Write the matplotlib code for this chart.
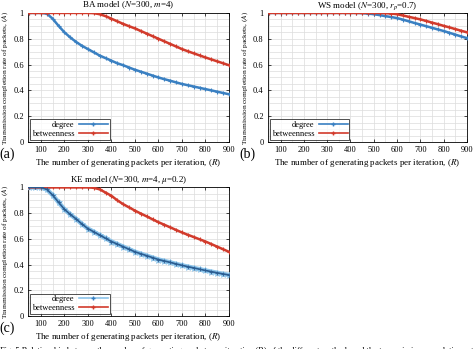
import numpy as np
import matplotlib.pyplot as plt
from matplotlib.ticker import MultipleLocator

plt.rcParams["font.family"] = ["Liberation Serif", "DejaVu Serif"]
plt.rcParams["mathtext.fontset"] = "stix"

# Packets generated per iteration, R
R = np.arange(50, 901, 25)

# Transmission completion rate A(R), BA model
ba_degree = [1.0, 1.0, 1.0, 0.995, 0.955, 0.90, 0.85, 0.81, 0.775, 0.745, 0.72, 0.695,
             0.67, 0.65, 0.63, 0.61, 0.595, 0.577, 0.56, 0.545, 0.53, 0.515, 0.50, 0.487,
             0.475, 0.462, 0.45, 0.44, 0.43, 0.42, 0.41, 0.40, 0.39, 0.38, 0.37]
ba_betw = [1.0, 1.0, 1.0, 1.0, 1.0, 1.0, 1.0, 1.0, 1.0, 1.0, 1.0, 0.998,
           0.99, 0.975, 0.955, 0.935, 0.915, 0.897, 0.88, 0.86, 0.84, 0.82, 0.80, 0.78,
           0.76, 0.74, 0.72, 0.703, 0.687, 0.671, 0.655, 0.64, 0.625, 0.61, 0.595]

# WS model
ws_degree = [1.0, 1.0, 1.0, 1.0, 1.0, 1.0, 1.0, 1.0, 1.0, 1.0, 1.0, 1.0,
             1.0, 1.0, 1.0, 1.0, 0.998, 0.995, 0.99, 0.983, 0.975, 0.968, 0.96, 0.948,
             0.935, 0.922, 0.91, 0.897, 0.885, 0.872, 0.86, 0.846, 0.832, 0.818, 0.805]
ws_betw = [1.0, 1.0, 1.0, 1.0, 1.0, 1.0, 1.0, 1.0, 1.0, 1.0, 1.0, 1.0,
           1.0, 1.0, 1.0, 1.0, 1.0, 1.0, 1.0, 1.0, 0.998, 0.995, 0.99, 0.98,
           0.97, 0.96, 0.95, 0.938, 0.925, 0.913, 0.90, 0.888, 0.875, 0.862, 0.85]

# KE model
ke_degree = [1.0, 1.0, 1.0, 0.985, 0.94, 0.885, 0.83, 0.79, 0.755, 0.715, 0.68, 0.655,
             0.63, 0.605, 0.58, 0.56, 0.54, 0.52, 0.50, 0.485, 0.47, 0.455, 0.44, 0.429,
             0.418, 0.406, 0.395, 0.385, 0.375, 0.365, 0.355, 0.346, 0.337, 0.328, 0.32]
ke_betw = [1.0, 1.0, 1.0, 1.0, 1.0, 1.0, 1.0, 1.0, 1.0, 1.0, 1.0, 0.997,
           0.985, 0.96, 0.935, 0.90, 0.87, 0.845, 0.82, 0.797, 0.775, 0.752, 0.73, 0.71,
           0.69, 0.67, 0.65, 0.632, 0.615, 0.597, 0.58, 0.56, 0.54, 0.52, 0.50]

BLUE = "#3a80c2"
LIGHT_BLUE = "#8cc4ea"
DARK_BLUE = "#2b5d92"
RED = "#d23b2c"

fig = plt.figure(figsize=(4.74, 3.49), dpi=100)


def panel(rect, title, deg, betw, tag, band=False):
    ax = fig.add_axes(rect)
    if band:
        ax.plot(R, deg, color=LIGHT_BLUE, lw=3.2, marker="*", ms=5, mew=0.6,
                mec=LIGHT_BLUE, zorder=3)
        ax.plot(R, deg, color=DARK_BLUE, lw=1.2, marker="+", ms=2.5, mew=0.6, zorder=4)
    else:
        ax.plot(R, deg, color=BLUE, lw=1.8, marker="+", ms=2.5, mew=0.8, zorder=3)
    ax.plot(R, betw, color=RED, lw=1.8, marker="+", ms=2.5, mew=0.8, zorder=3)

    ax.set_xlim(45, 900)
    ax.set_ylim(0, 1)
    ax.xaxis.set_major_locator(MultipleLocator(100))
    ax.xaxis.set_minor_locator(MultipleLocator(50))
    ax.yaxis.set_minor_locator(MultipleLocator(0.05))
    ax.set_yticks([0, 0.2, 0.4, 0.6, 0.8, 1.0])
    ax.set_yticklabels(["0", "0.2", "0.4", "0.6", "0.8", "1"])
    ax.grid(which="both", color="#dcdcdc", lw=0.5)
    ax.set_axisbelow(True)
    ax.tick_params(which="both", direction="in", top=True, right=True, labelsize=6,
                   length=2, width=0.5, pad=3)
    ax.tick_params(which="minor", length=0)
    for s in ax.spines.values():
        s.set_linewidth(0.6)

    ax.set_title(title, fontsize=6.5, pad=4)
    ax.set_xlabel(r"The number of generating packets per iteration, ($R$)", fontsize=6.5,
                  labelpad=2)
    ax.set_ylabel(r"Transmission completion rate of packets, ($A$)", fontsize=5.3,
                  labelpad=2)

    h1, = ax.plot([], [], color=LIGHT_BLUE if band else BLUE, lw=1.2, marker="+",
                  ms=3, mec=BLUE)
    h2, = ax.plot([], [], color=RED, lw=1.2, marker="+", ms=3)
    leg = ax.legend([h1, h2], ["degree", "betweenness"], loc="lower left",
                    markerfirst=False, fontsize=6, frameon=True, fancybox=False,
                    handlelength=3.5, borderpad=0.2, labelspacing=0.1,
                    handletextpad=0.5, borderaxespad=0.3)
    leg.get_frame().set_edgecolor("black")
    leg.get_frame().set_linewidth(0.6)
    for t in leg.get_texts():
        t.set_ha("right")
    leg._legend_box.align = "right"

    x0, y0 = rect[0], rect[1]
    fig.text(x0 - 0.061, y0 - 0.035, tag, fontsize=10, va="center", ha="left")
    return ax


panel([0.059, 0.593, 0.424, 0.370], r"BA model ($N$=300, $m$=4)", ba_degree, ba_betw, "(a)")
panel([0.565, 0.593, 0.420, 0.370], r"WS model ($N$=300, $r_p$=0.7)", ws_degree, ws_betw, "(b)")
panel([0.059, 0.094, 0.424, 0.369], r"KE model ($N$=300, $m$=4, $\mu$=0.2)", ke_degree,
      ke_betw, "(c)", band=True)

fig.text(0.0, 0.007, "Fig. 5 Relationship between the number of generating packets per "
         "iteration (R) of the different methods and the transmission completion rate "
         "of packets (A) in different networks",
         fontsize=6, va="top", ha="left")

fig.savefig("out.png", dpi=100)
